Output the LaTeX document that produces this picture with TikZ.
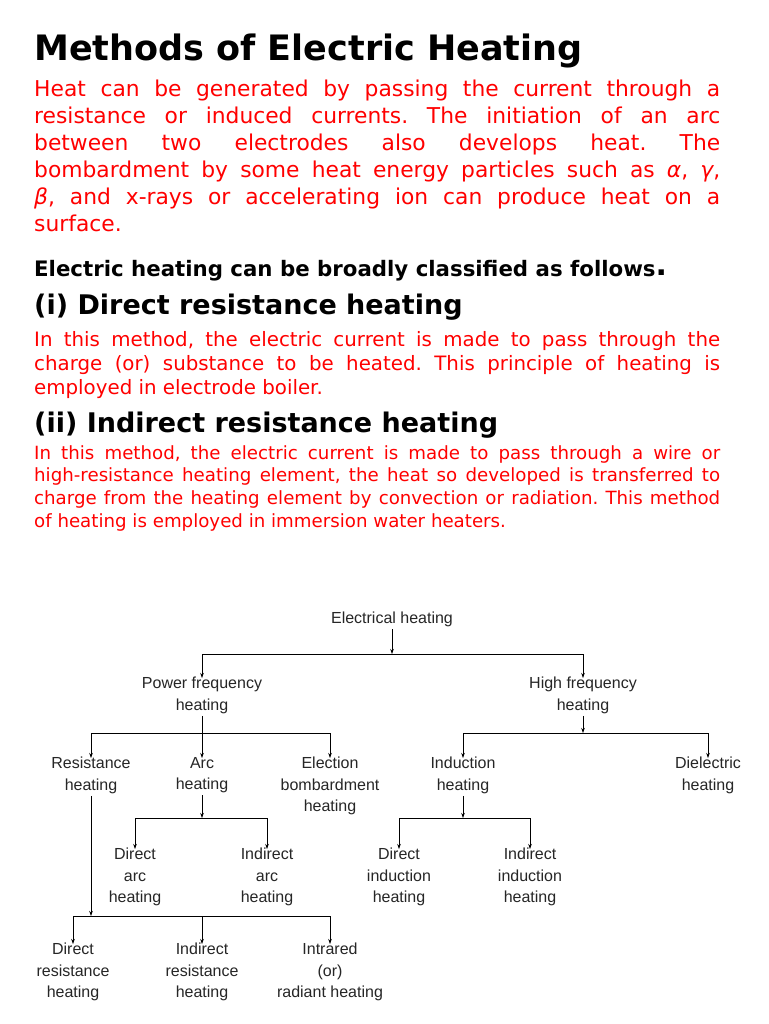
\documentclass[tikz,border=0pt]{standalone}
\usepackage{fontspec}
\setmainfont{DejaVu Sans}
\newfontfamily\treefont{Liberation Sans}
\usetikzlibrary{arrows.meta}
\definecolor{txtred}{HTML}{FF0000}
\begin{document}
\begin{tikzpicture}[x=1pt,y=-1pt,
  para/.style={anchor=north west,inner sep=0pt,text width=686pt,align=justify,text=txtred},
  tn/.style={font=\treefont\fontsize{16}{21.5}\selectfont,align=center,inner sep=0pt,anchor=north,text=black!85},
  ar/.style={-{Stealth[length=5pt,width=3.5pt]},line width=0.6pt},
  ln/.style={line width=0.6pt}]
\useasboundingbox (0,0) rectangle (768,1024);
\fill[white] (0,0) rectangle (768,1024);
\node[anchor=west,inner sep=0pt,font=\bfseries\fontsize{35}{40}\selectfont] (title) at (34,51) {Methods of Electric Heating};
\node[para,font=\fontsize{21.8}{27}\selectfont] (p1) at (34,80) {\frenchspacing\hyphenpenalty10000\relax Heat can be generated by passing the current through a\linebreak resistance or induced currents. The initiation of an arc\linebreak between two electrodes also develops heat. The\linebreak bombardment by some heat energy particles such as \textit{α}, \textit{γ},\linebreak \textit{β}, and x-rays or accelerating ion can produce heat on a\linebreak surface.};
\node[anchor=west,inner sep=0pt,font=\bfseries\fontsize{21.3}{24}\selectfont] (cls) at (34,271) {Electric heating can be broadly classified as follows\raisebox{1pt}{\fontsize{30}{30}\selectfont.}};
\node[anchor=west,inner sep=0pt,font=\bfseries\fontsize{27}{32}\selectfont] (h1) at (34,307) {(i) Direct resistance heating};
\node[para,font=\fontsize{19.8}{24}\selectfont] (p2) at (34,331) {\frenchspacing\hyphenpenalty10000\relax In this method, the electric current is made to pass through the\linebreak charge (or) substance to be heated. This principle of heating is\linebreak employed in electrode boiler.};
\node[anchor=west,inner sep=0pt,font=\bfseries\fontsize{27}{32}\selectfont] (h2) at (34,425) {(ii) Indirect resistance heating};
\node[para,font=\fontsize{18.2}{22.7}\selectfont] (p3) at (34,445) {\frenchspacing\hyphenpenalty10000\relax In this method, the electric current is made to pass through a wire or\linebreak high-resistance heating element, the heat so developed is transferred to\linebreak charge from the heating element by convection or radiation. This method\linebreak of heating is employed in immersion water heaters.};
% tree
\node[tn] (eh) at (392,612) {Electrical heating};
\node[tn] (pf) at (202,677) {Power frequency\\heating};
\node[tn] (hf) at (583,677) {High frequency\\heating};
\node[tn] (rh) at (91,757) {Resistance\\heating};
\node[tn] (ah) at (202,757) {Arc\\heating};
\node[tn] (eb) at (330,757) {Election\\bombardment\\heating};
\node[tn] (ih) at (463,757) {Induction\\heating};
\node[tn] (dh) at (708,757) {Dielectric\\heating};
\node[tn] (dah) at (135,848) {Direct\\arc\\heating};
\node[tn] (iah) at (267,848) {Indirect\\arc\\heating};
\node[tn] (dih) at (399,848) {Direct\\induction\\heating};
\node[tn] (iih) at (530,848) {Indirect\\induction\\heating};
\node[tn] (drh) at (73,943) {Direct\\resistance\\heating};
\node[tn] (irh) at (202,943) {Indirect\\resistance\\heating};
\node[tn] (rah) at (330,943) {Intrared\\(or)\\radiant heating};
\coordinate (j1) at (392,654);
\coordinate (j2) at (202,733);
\coordinate (j3) at (583,733);
\coordinate (j4) at (202,818);
\coordinate (j5) at (463,818);
\coordinate (j6) at (91,916);
\draw[ar] (eh.south) ++(0,2) -- (j1);
\draw[ar] (j1) -| ([yshift=-1pt]pf.north);
\draw[ar] (j1) -| ([yshift=-1pt]hf.north);
\draw[ln] ([yshift=-2pt]pf.south) -- (j2);
\draw[ar] (j2) -| ([yshift=-1pt]rh.north);
\draw[ar] (j2) -- ([yshift=-1pt]ah.north);
\draw[ar] (j2) -| ([yshift=-1pt]eb.north);
\draw[ar] ([yshift=-2pt]hf.south) -- (j3);
\draw[ar] (j3) -| ([yshift=-1pt]ih.north);
\draw[ar] (j3) -| ([yshift=-1pt]dh.north);
\draw[ar] ([yshift=-2pt]ah.south) -- (j4);
\draw[ar] (j4) -| ([yshift=-1pt]dah.north);
\draw[ar] (j4) -| ([yshift=-1pt]iah.north);
\draw[ar] ([yshift=-2pt]ih.south) -- (j5);
\draw[ar] (j5) -| ([yshift=-1pt]dih.north);
\draw[ar] (j5) -| ([yshift=-1pt]iih.north);
\draw[ar] ([yshift=-2pt]rh.south) -- (j6);
\draw[ar] (j6) -| ([yshift=-1pt]drh.north);
\draw[ar] (j6) -| ([yshift=-1pt]irh.north);
\draw[ar] (j6) -| ([yshift=-1pt]rah.north);
\end{tikzpicture}
\end{document}
